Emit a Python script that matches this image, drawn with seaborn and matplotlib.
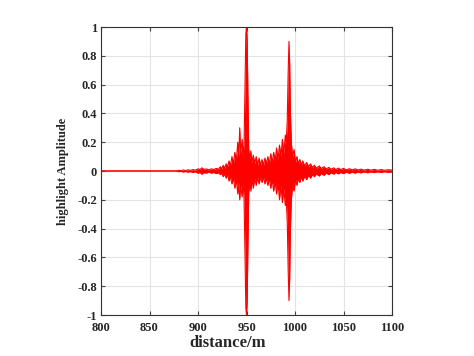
import numpy as np
import pandas as pd
import matplotlib
matplotlib.use("Agg")
import matplotlib.pyplot as plt
import seaborn as sns

# Envelope of the oscillating signal (distance in m)
distance = [800, 878, 880, 882, 885, 887, 890, 892, 895, 897, 900, 902, 904, 906, 909, 911, 914, 916, 919, 921,
            923, 924.5, 926, 927.5, 929, 930.5, 932, 933.5, 935, 936.5, 938, 939.5, 941, 942, 943, 944, 945.5, 946.5, 947.5, 948.5,
            949.3, 950, 950.7, 951.5, 952.3, 953.5, 954.5, 955.5, 957, 958.5, 960, 961.5, 963, 964.5, 966, 967.5, 969, 970.5, 972, 973.5,
            975, 976.5, 978, 979.5, 981, 982.5, 984, 985.5, 987, 988.5, 990, 991, 992, 993, 993.8, 994.5, 995.3, 996.2, 997.5, 999,
            1000.5, 1002, 1003.5, 1005, 1006.5, 1008, 1010, 1012, 1014, 1016, 1018, 1020, 1022, 1025, 1027, 1030, 1032, 1035, 1037, 1040,
            1042, 1045, 1047, 1050, 1053, 1056, 1059, 1062, 1065, 1068, 1071, 1075, 1078, 1082, 1085, 1089, 1092, 1096, 1100]
upper = [0, 0, 0.005, 0.002, 0.007, 0.003, 0.008, 0.004, 0.01, 0.005, 0.015, 0.01, 0.022, 0.012, 0.014, 0.008, 0.015, 0.01, 0.018, 0.012,
         0.03, 0.015, 0.04, 0.02, 0.05, 0.03, 0.07, 0.04, 0.1, 0.05, 0.13, 0.07, 0.2, 0.1, 0.3, 0.12, 0.22, 0.1, 0.2, 0.6,
         0.95, 1.0, 0.9, 0.5, 0.15, 0.08, 0.14, 0.06, 0.11, 0.05, 0.1, 0.04, 0.09, 0.04, 0.08, 0.04, 0.09, 0.05, 0.1, 0.05,
         0.12, 0.06, 0.13, 0.07, 0.16, 0.08, 0.18, 0.1, 0.22, 0.12, 0.25, 0.2, 0.35, 0.7, 0.9, 0.75, 0.4, 0.2, 0.1, 0.15,
         0.06, 0.1, 0.05, 0.08, 0.04, 0.07, 0.035, 0.06, 0.03, 0.05, 0.025, 0.04, 0.02, 0.035, 0.018, 0.03, 0.015, 0.025, 0.012, 0.022,
         0.01, 0.02, 0.01, 0.018, 0.008, 0.016, 0.008, 0.015, 0.007, 0.013, 0.006, 0.012, 0.006, 0.011, 0.005, 0.01, 0.005, 0.009, 0.006]
lower = [0, 0, -0.005, -0.002, -0.007, -0.003, -0.008, -0.004, -0.01, -0.005, -0.015, -0.01, -0.022, -0.012, -0.014, -0.008, -0.015, -0.01, -0.018, -0.012,
         -0.025, -0.015, -0.04, -0.02, -0.05, -0.025, -0.07, -0.04, -0.09, -0.05, -0.12, -0.06, -0.16, -0.08, -0.2, -0.1, -0.18, -0.08, -0.2, -0.6,
         -0.95, -1.0, -0.9, -0.5, -0.15, -0.08, -0.14, -0.06, -0.12, -0.05, -0.1, -0.04, -0.09, -0.04, -0.08, -0.04, -0.09, -0.05, -0.1, -0.05,
         -0.12, -0.06, -0.14, -0.07, -0.16, -0.08, -0.2, -0.1, -0.22, -0.12, -0.24, -0.2, -0.35, -0.7, -0.9, -0.75, -0.4, -0.2, -0.1, -0.14,
         -0.06, -0.1, -0.05, -0.08, -0.04, -0.07, -0.035, -0.06, -0.03, -0.05, -0.025, -0.04, -0.02, -0.035, -0.018, -0.03, -0.015, -0.025, -0.012, -0.022,
         -0.01, -0.02, -0.01, -0.018, -0.008, -0.016, -0.008, -0.015, -0.007, -0.013, -0.006, -0.012, -0.006, -0.011, -0.005, -0.01, -0.005, -0.009, -0.006]

x_ticks = [800, 850, 900, 950, 1000, 1050, 1100]
y_ticks = [-1, -0.8, -0.6, -0.4, -0.2, 0, 0.2, 0.4, 0.6, 0.8, 1]
y_tick_labels = ["-1", "-0.8", "-0.6", "-0.4", "-0.2", "0", "0.2", "0.4", "0.6", "0.8", "1"]

sns.set_style("whitegrid")
plt.rcParams["font.family"] = ["Liberation Serif", "DejaVu Serif"]
plt.rcParams["font.weight"] = "bold"

df = pd.DataFrame({"distance": distance, "upper": upper, "lower": lower})

fig = plt.figure(figsize=(4.74, 3.56), dpi=100)
ax = fig.add_axes([101 / 474, 41 / 356, 291 / 474, 288 / 356])

ax.fill_between(df["distance"], df["lower"], df["upper"], color="red", linewidth=0)
sns.lineplot(data=df, x="distance", y="upper", ax=ax, color="red", linewidth=0.8)
sns.lineplot(data=df, x="distance", y="lower", ax=ax, color="red", linewidth=0.8)

ax.set_xlim(800, 1100)
ax.set_ylim(-1, 1)
ax.set_xticks(x_ticks)
ax.set_xticklabels([str(t) for t in x_ticks])
ax.set_yticks(y_ticks)
ax.set_yticklabels(y_tick_labels)
ax.grid(True, color="#e3e3e3", linewidth=0.8)
ax.tick_params(axis="both", which="both", direction="in", length=3, labelsize=9,
               top=True, right=True, bottom=True, left=True, color="#444444")
ax.tick_params(axis="x", pad=5)
ax.tick_params(axis="y", pad=3)
for lbl in ax.get_xticklabels() + ax.get_yticklabels():
    lbl.set_fontweight("bold")
for spine in ax.spines.values():
    spine.set_color("#333333")
    spine.set_linewidth(0.8)

ax.set_xlabel("distance/m", fontsize=12, fontweight="bold")
ax.xaxis.set_label_coords(0.436, -0.07)
ax.set_ylabel("highlight Amplitude", fontsize=9, fontweight="bold", labelpad=6)

fig.savefig("out.png", dpi=100, facecolor="white")
